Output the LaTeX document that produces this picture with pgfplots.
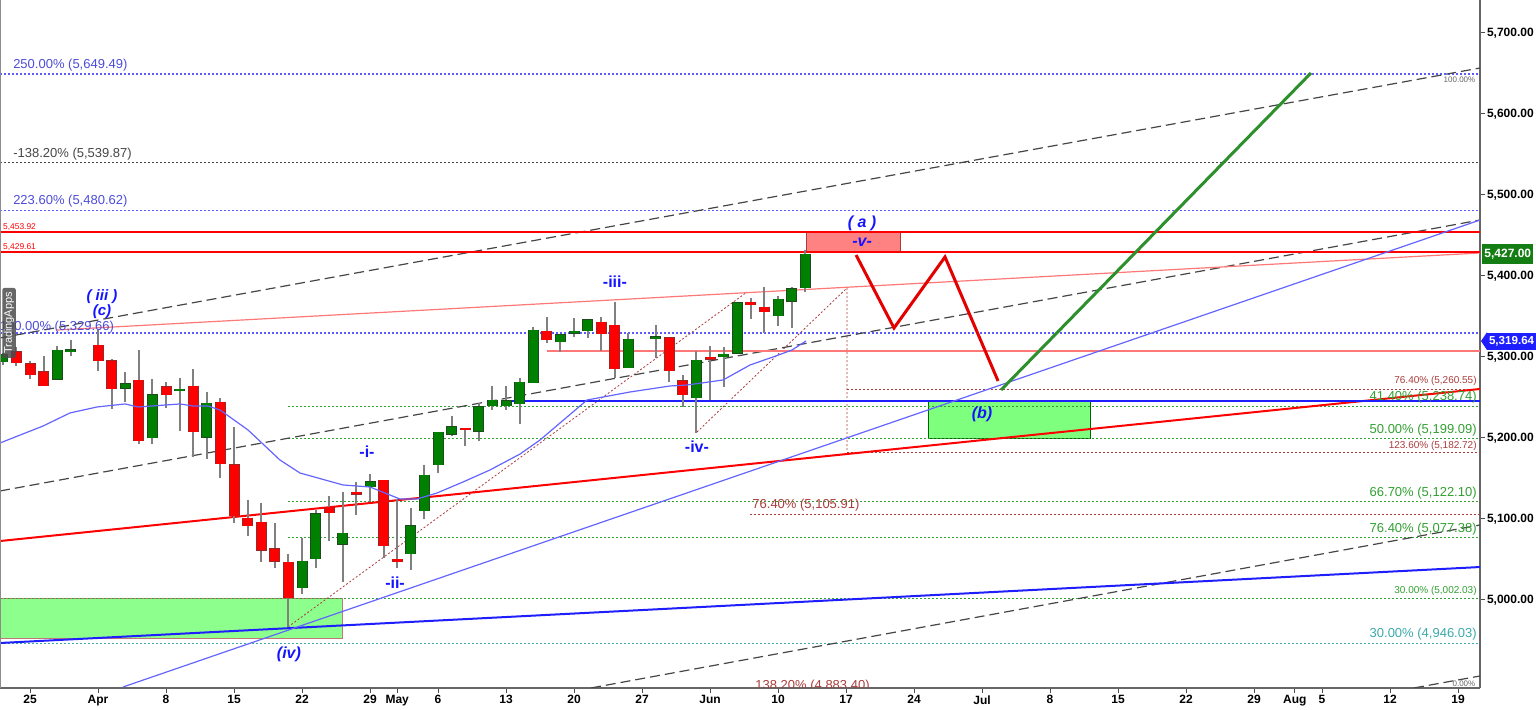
\documentclass[border=0pt]{standalone}
\usepackage{fontspec}
\setmainfont{Liberation Sans}
\usepackage{pgfplots}
\usepackage{pgfplotstable}
\pgfplotsset{compat=1.18}
\usetikzlibrary{calc}

\newcommand\fs[1]{\fontsize{#1}{#1}\selectfont}

\definecolor{wick}{RGB}{128,128,128}
\definecolor{cgreen}{RGB}{0,128,0}
\definecolor{cgreenedge}{RGB}{30,75,30}
\definecolor{cred}{RGB}{255,0,0}
\definecolor{crededge}{RGB}{150,40,40}
\definecolor{dashgray}{RGB}{70,70,70}
\definecolor{fibblue}{RGB}{90,90,255}
\definecolor{fibgreen}{RGB}{50,160,50}
\definecolor{fibteal}{RGB}{60,170,170}
\definecolor{fibbrown}{RGB}{170,60,60}
\definecolor{wave}{RGB}{20,20,255}
\definecolor{pinkline}{RGB}{255,120,120}
\definecolor{zonegreen}{RGB}{140,255,140}
\definecolor{zonepink}{RGB}{255,130,130}
\definecolor{maline}{RGB}{100,100,255}
\definecolor{boxblue}{RGB}{30,30,255}
\definecolor{boxgreen}{RGB}{20,125,20}

% trading-day index (0 = Mar 25), open, high, low, close
\pgfplotstableread{
i  O      H      L      C
-2 5293.8 5305.0 5290.0 5302.5
2  5272.8 5313.6 5272.0 5308.6
3  5306.5 5321.0 5301.2 5309.0
7  5261.7 5281.5 5244.4 5266.7
9  5200.0 5272.8 5192.6 5253.1
11 5258.0 5274.1 5208.6 5260.5
13 5201.2 5256.8 5174.1 5243.2
20 5014.8 5076.5 5007.4 5048.1
21 5050.6 5111.1 5039.5 5106.2
23 5069.1 5133.3 5022.2 5082.7
25 5139.5 5155.6 5121.0 5145.7
28 5056.8 5113.6 5037.0 5091.4
29 5109.9 5166.7 5100.0 5154.3
30 5166.7 5207.4 5156.8 5207.4
31 5204.9 5227.2 5202.5 5213.6
33 5208.6 5243.2 5196.3 5238.3
34 5239.5 5264.2 5234.6 5246.9
35 5239.5 5264.2 5234.6 5245.7
36 5242.0 5274.1 5217.3 5269.1
37 5267.9 5337.0 5267.9 5333.3
39 5318.5 5327.2 5306.2 5327.2
40 5329.6 5348.1 5324.7 5332.1
41 5332.1 5346.9 5323.5 5345.7
44 5286.4 5329.6 5286.4 5322.2
46 5322.2 5339.5 5298.8 5324.7
49 5249.4 5307.4 5206.2 5296.3
51 5300.0 5312.3 5263.0 5303.7
52 5304.9 5367.9 5304.9 5366.7
55 5350.6 5375.3 5338.3 5371.6
56 5369.1 5386.4 5335.8 5384.0
57 5385.2 5432.0 5380.2 5427.0
}\greencandles

\pgfplotstableread{
i  O      H      L      C
-1 5306.2 5312.3 5288.9 5292.6
0  5291.4 5295.1 5272.8 5277.8
1  5281.5 5301.2 5264.2 5264.2
5  5314.8 5333.3 5282.7 5295.1
6  5295.1 5297.5 5235.8 5260.5
8  5271.6 5308.6 5192.6 5196.3
10 5263.0 5269.1 5237.0 5253.1
12 5264.2 5285.2 5176.5 5207.4
14 5244.4 5249.4 5150.6 5167.9
15 5166.7 5213.6 5095.1 5103.7
16 5101.2 5123.5 5079.0 5091.4
17 5096.3 5119.8 5046.9 5061.7
18 5063.0 5095.1 5039.5 5048.1
19 5046.9 5056.8 4966.7 5002.5
22 5114.8 5128.4 5072.8 5107.4
24 5133.0 5145.7 5104.9 5130.5
26 5148.1 5148.1 5051.9 5066.7
27 5050.6 5124.7 5039.5 5047.4
32 5212.3 5212.3 5190.1 5209.9
38 5332.1 5349.4 5317.3 5321.0
42 5343.2 5349.4 5307.4 5328.4
43 5339.5 5367.9 5274.1 5285.2
47 5323.5 5323.5 5269.1 5282.7
48 5270.4 5277.8 5238.3 5253.1
50 5300.0 5313.6 5246.9 5297.5
53 5367.9 5372.8 5346.9 5364.2
54 5361.7 5386.4 5329.6 5355.6
}\redcandles

\begin{document}
\begin{tikzpicture}
\begin{axis}[
    scale only axis,
    width=740pt, height=344pt,
    xmin=-2.206, xmax=106.618,
    ymin=4891.36, ymax=5740.74,
    axis x line=bottom, axis y line=right,
    axis line style={-, black!60, line width=0.6pt},
    tick align=outside, major tick length=2.5pt,
    tick style={black!70, line width=0.5pt},
    xtick={0,5,10,15,20,25,27,30,35,40,45,50,55,60,65,70,75,80,85,90,93,95,100,105},
    xticklabels={25,Apr,8,15,22,29,May,6,13,20,27,Jun,10,17,24,Jul,8,15,22,29,Aug,5,12,19},
    ytick={5000,5100,5200,5300,5400,5500,5600,5700},
    yticklabels={{5,000.00},{5,100.00},{5,200.00},{5,300.00},{5,400.00},{5,500.00},{5,600.00},{5,700.00}},
    xticklabel style={font=\bfseries\fs{6}, inner sep=1pt},
    yticklabel style={font=\bfseries\fs{6}, inner sep=0.8pt},
]
\coordinate (SW) at (rel axis cs:0,0);
\coordinate (NE) at (rel axis cs:1,1);
\coordinate (P5427) at (axis cs:106.618,5427);
\coordinate (P5319) at (axis cs:106.618,5319.64);

% zones
\addplot[fill=zonegreen, draw=fibbrown!70, line width=0.5pt] coordinates {(-2.206,5002.0) (23.01,5002.0) (23.01,4951.9) (-2.206,4951.9) (-2.206,5002.0)};
\addplot[fill=zonegreen!90!green, draw=black!60!green, line width=0.5pt] coordinates {(66.03,5245.7) (78.01,5245.7) (78.01,5199.1) (66.03,5199.1) (66.03,5245.7)};
\addplot[fill=zonepink, draw=fibbrown, line width=0.5pt] coordinates {(57.06,5453.92) (64.04,5453.92) (64.04,5429.61) (57.06,5429.61) (57.06,5453.92)};

% fib levels
\addplot[fibblue, line width=0.6pt, dash pattern=on 1pt off 1pt] coordinates {(-2.206,5649.49) (106.618,5649.49)};
\addplot[fibblue, line width=0.6pt, dash pattern=on 1pt off 1pt] coordinates {(-2.206,5480.62) (106.618,5480.62)};
\addplot[fibblue, line width=0.6pt, dash pattern=on 1pt off 1pt] coordinates {(-2.206,5329.66) (106.618,5329.66)};
\addplot[dashgray, line width=0.6pt, dash pattern=on 1pt off 1pt] coordinates {(-2.206,5539.87) (106.618,5539.87)};
\addplot[fibgreen, line width=0.5pt, dash pattern=on 1pt off 1pt] coordinates {(18.97,5238.74) (106.618,5238.74)};
\addplot[fibgreen, line width=0.5pt, dash pattern=on 1pt off 1pt] coordinates {(18.97,5199.09) (106.618,5199.09)};
\addplot[fibgreen, line width=0.5pt, dash pattern=on 1pt off 1pt] coordinates {(18.97,5122.10) (106.618,5122.10)};
\addplot[fibgreen, line width=0.5pt, dash pattern=on 1pt off 1pt] coordinates {(18.97,5077.38) (106.618,5077.38)};
\addplot[fibgreen, line width=0.5pt, dash pattern=on 1pt off 1pt] coordinates {(-2.206,5002.03) (106.618,5002.03)};
\addplot[fibteal, line width=0.6pt, dash pattern=on 1pt off 1pt] coordinates {(-2.206,4946.03) (106.618,4946.03)};
\addplot[fibbrown, line width=0.4pt, dash pattern=on 1pt off 1pt] coordinates {(18.97,4966.7) (52.72,5380.2)};
\addplot[fibbrown, line width=0.4pt, dash pattern=on 1pt off 1pt] coordinates {(49.04,5207.4) (60.07,5385.2) (60.07,5182.72)};
\addplot[fibbrown, line width=0.4pt, dash pattern=on 1pt off 1pt] coordinates {(60.07,5260.55) (106.618,5260.55)};
\addplot[fibbrown, line width=0.4pt, dash pattern=on 1pt off 1pt] coordinates {(60.07,5182.72) (106.618,5182.72)};
\addplot[fibbrown, line width=0.5pt, dash pattern=on 1pt off 1pt] coordinates {(52.94,5105.91) (106.618,5105.91)};

% channel and trend lines
\addplot[dashgray, line width=0.6pt, dash pattern=on 5pt off 2.5pt] coordinates {(-2.206,5323.5) (106.618,5656.8)};
\addplot[dashgray, line width=0.6pt, dash pattern=on 5pt off 2.5pt] coordinates {(-2.206,5134.6) (106.618,5469.1)};
\addplot[dashgray, line width=0.6pt, dash pattern=on 5pt off 2.5pt] coordinates {(41.25,4891.4) (106.618,5092.6)};
\addplot[dashgray, line width=0.6pt, dash pattern=on 5pt off 2.5pt] coordinates {(101.76,4891.4) (106.618,4906.2)};
\addplot[pinkline, line width=0.6pt] coordinates {(1.99,5333.3) (106.618,5428.4)};
\addplot[pinkline, line width=0.9pt] coordinates {(38.0,5307.4) (106.618,5307.4)};
\addplot[cred, line width=1pt] coordinates {(-2.206,5453.92) (106.618,5453.92)};
\addplot[cred, line width=1pt] coordinates {(-2.206,5429.61) (106.618,5429.61)};
\addplot[cred, line width=1pt] coordinates {(-2.206,5072.8) (106.618,5260.5)};
\addplot[boxblue, line width=1pt] coordinates {(-2.206,4946.9) (106.618,5040.7)};
\addplot[boxblue, line width=1pt] coordinates {(35.0,5245.7) (106.618,5245.7)};
\addplot[maline, line width=0.6pt] coordinates {(6.84,4892.6) (106.618,5469.1)};

% candles: wicks, body edge, body fill
\addplot[draw=none, mark=none, error bars/.cd, y dir=minus, y explicit, error mark=none,
  error bar style={draw=wick, line width=1pt}]
  table[x=i, y=H, y error minus expr=\thisrow{H}-\thisrow{L}] {\greencandles};
\addplot[draw=none, mark=none, error bars/.cd, y dir=minus, y explicit, error mark=none,
  error bar style={draw=wick, line width=1pt}]
  table[x=i, y=H, y error minus expr=\thisrow{H}-\thisrow{L}] {\redcandles};
\addplot[draw=none, mark=none, error bars/.cd, y dir=minus, y explicit, error mark=none,
  error bar style={draw=cgreenedge, line width=5.5pt, line cap=butt}]
  table[x=i, y expr=\thisrow{C}+0.6, y error minus expr=\thisrow{C}-\thisrow{O}+1.2] {\greencandles};
\addplot[draw=none, mark=none, error bars/.cd, y dir=minus, y explicit, error mark=none,
  error bar style={draw=cgreen, line width=4.5pt, line cap=butt}]
  table[x=i, y=C, y error minus expr=\thisrow{C}-\thisrow{O}] {\greencandles};
\addplot[draw=none, mark=none, error bars/.cd, y dir=minus, y explicit, error mark=none,
  error bar style={draw=crededge, line width=5.5pt, line cap=butt}]
  table[x=i, y expr=\thisrow{O}+0.6, y error minus expr=\thisrow{O}-\thisrow{C}+1.2] {\redcandles};
\addplot[draw=none, mark=none, error bars/.cd, y dir=minus, y explicit, error mark=none,
  error bar style={draw=cred, line width=4.5pt, line cap=butt}]
  table[x=i, y=O, y error minus expr=\thisrow{O}-\thisrow{C}] {\redcandles};

% moving average
\addplot[maline, line width=0.6pt] coordinates {
(-2.21,5193.8) (0.96,5214.8) (2.94,5230.9) (4.93,5238.3) (6.99,5242.0) (7.94,5238.3)
(11.03,5242.0) (11.99,5239.5) (13.09,5239.5) (13.97,5234.6) (16.03,5209.9) (18.38,5172.8)
(19.85,5156.8) (23.01,5142.0) (25.0,5139.5) (27.2,5124.7) (28.46,5124.7) (29.93,5132.1)
(31.84,5145.7) (33.82,5160.5) (36.03,5180.2) (37.5,5197.5) (40.96,5246.9) (44.12,5256.8)
(47.06,5264.2) (48.31,5265.4) (50.96,5271.6) (52.94,5290.1) (54.63,5300.0) (56.03,5308.6)
(57.06,5319.8)};

% projected path
\addplot[cred!90!black, line width=1.5pt] coordinates {(60.74,5425.9) (63.53,5335.8) (67.28,5423.5) (71.18,5270.4)};
\addplot[fibgreen!90!black, line width=1.5pt] coordinates {(71.40,5259.3) (94.19,5650.6)};

% level labels
\node[anchor=west, text=fibblue!85!black, font=\fs{6.5}] at (axis cs:-1.75,5660.5) {250.00\% (5,649.49)};
\node[anchor=west, text=dashgray, font=\fs{6.5}] at (axis cs:-1.75,5550.6) {-138.20\% (5,539.87)};
\node[anchor=west, text=fibblue!85!black, font=\fs{6.5}] at (axis cs:-1.75,5492.6) {223.60\% (5,480.62)};
\node[anchor=west, text=fibblue!85!black, font=\fs{6.5}, inner sep=0pt] at (axis cs:-2.25,5336.5) {100.00\% (5,329.66)};
\node[anchor=west, text=cred, font=\fs{4.2}, inner sep=0pt] at (axis cs:-2.0,5460.5) {5,453.92};
\node[anchor=west, text=cred, font=\fs{4.2}, inner sep=0pt] at (axis cs:-2.0,5435.8) {5,429.61};
\node[anchor=east, text=fibbrown, font=\fs{5}, inner sep=0pt] at (axis cs:106.4,5270.4) {76.40\% (5,260.55)};
\node[anchor=east, text=fibgreen, font=\fs{6.5}, inner sep=0pt] at (axis cs:106.4,5250.0) {41.40\% (5,238.74)};
\node[anchor=east, text=fibgreen, font=\fs{6.5}, inner sep=0pt] at (axis cs:106.4,5209.9) {50.00\% (5,199.09)};
\node[anchor=east, text=fibbrown, font=\fs{5}, inner sep=0pt] at (axis cs:106.4,5190.1) {123.60\% (5,182.72)};
\node[anchor=east, text=fibgreen, font=\fs{6.5}, inner sep=0pt] at (axis cs:106.4,5132.1) {66.70\% (5,122.10)};
\node[anchor=east, text=fibgreen, font=\fs{6.5}, inner sep=0pt] at (axis cs:106.4,5087.7) {76.40\% (5,077.38)};
\node[anchor=east, text=fibgreen, font=\fs{5}, inner sep=0pt] at (axis cs:106.4,5011.1) {30.00\% (5,002.03)};
\node[anchor=east, text=fibteal, font=\fs{6.5}, inner sep=0pt] at (axis cs:106.4,4958.0) {30.00\% (4,946.03)};
\node[anchor=east, text=black!60, font=\fs{4}, inner sep=0pt] at (axis cs:106.3,5642.0) {100.00\%};
\node[anchor=east, text=black!60, font=\fs{4}, inner sep=0pt] at (axis cs:106.3,4896.3) {0.00\%};
\node[anchor=west, text=fibbrown, font=\fs{6.5}, inner sep=0pt] at (axis cs:53.09,5117.3) {76.40\% (5,105.91)};
\node[anchor=west, text=fibbrown, font=\fs{6.5}, inner sep=0pt] at (axis cs:53.31,4893.8) {138.20\% (4,883.40)};

% wave labels
\node[text=wave, font=\bfseries\itshape\fs{7.5}, inner sep=0pt] at (axis cs:5.29,5374.5) {( iii )};
\node[text=wave, font=\bfseries\itshape\fs{7.5}, inner sep=0pt] at (axis cs:5.29,5356.5) {(c)};
\node[text=wave, font=\bfseries\fs{8}] at (axis cs:24.78,5182.7) {-i-};
\node[text=wave, font=\bfseries\fs{8}] at (axis cs:26.84,5021.0) {-ii-};
\node[text=wave, font=\bfseries\fs{8}] at (axis cs:43.01,5392.6) {-iii-};
\node[text=wave, font=\bfseries\fs{8}] at (axis cs:49.04,5188.9) {-iv-};
\node[text=wave, font=\bfseries\itshape\fs{8}] at (axis cs:61.18,5465.4) {( a )};
\node[text=wave, font=\bfseries\itshape\fs{8}] at (axis cs:61.18,5442.0) {-v-};
\node[text=wave, font=\bfseries\itshape\fs{8}] at (axis cs:19.04,4933.3) {(iv)};
\node[text=wave, font=\bfseries\itshape\fs{8}] at (axis cs:70.0,5229.6) {(b)};

% watermark
\node[fill=black!70, fill opacity=0.85, text opacity=1, text=white, rotate=90,
  rounded corners=1pt, inner sep=0.8pt, minimum width=35pt, minimum height=6.5pt,
  font=\fs{5.5}] at (axis cs:-1.54,5342.0) {TradingApps};
\end{axis}

\draw[black!45, line width=1pt] (SW) -- (SW |- NE);
\node[fill=boxgreen, text=white, anchor=west, inner xsep=1pt, inner ysep=2.4pt,
  font=\bfseries\fs{6}] at ($(P5427)+(1pt,0)$) {5,427.00};
\node[fill=boxblue, text=white, anchor=west, inner xsep=0.8pt, inner ysep=1.8pt,
  font=\bfseries\fs{5.8}] (bx) at ($(P5319)+(3.5pt,0)$) {5,319.64};
\fill[boxblue] (bx.north west) -- ($(P5319)+(0.5pt,0)$) -- (bx.south west) -- cycle;

\pgfresetboundingbox
\path[use as bounding box] ($(SW)+(0,-11pt)$) rectangle ($(NE)+(28pt,0)$);
\end{tikzpicture}
\end{document}
